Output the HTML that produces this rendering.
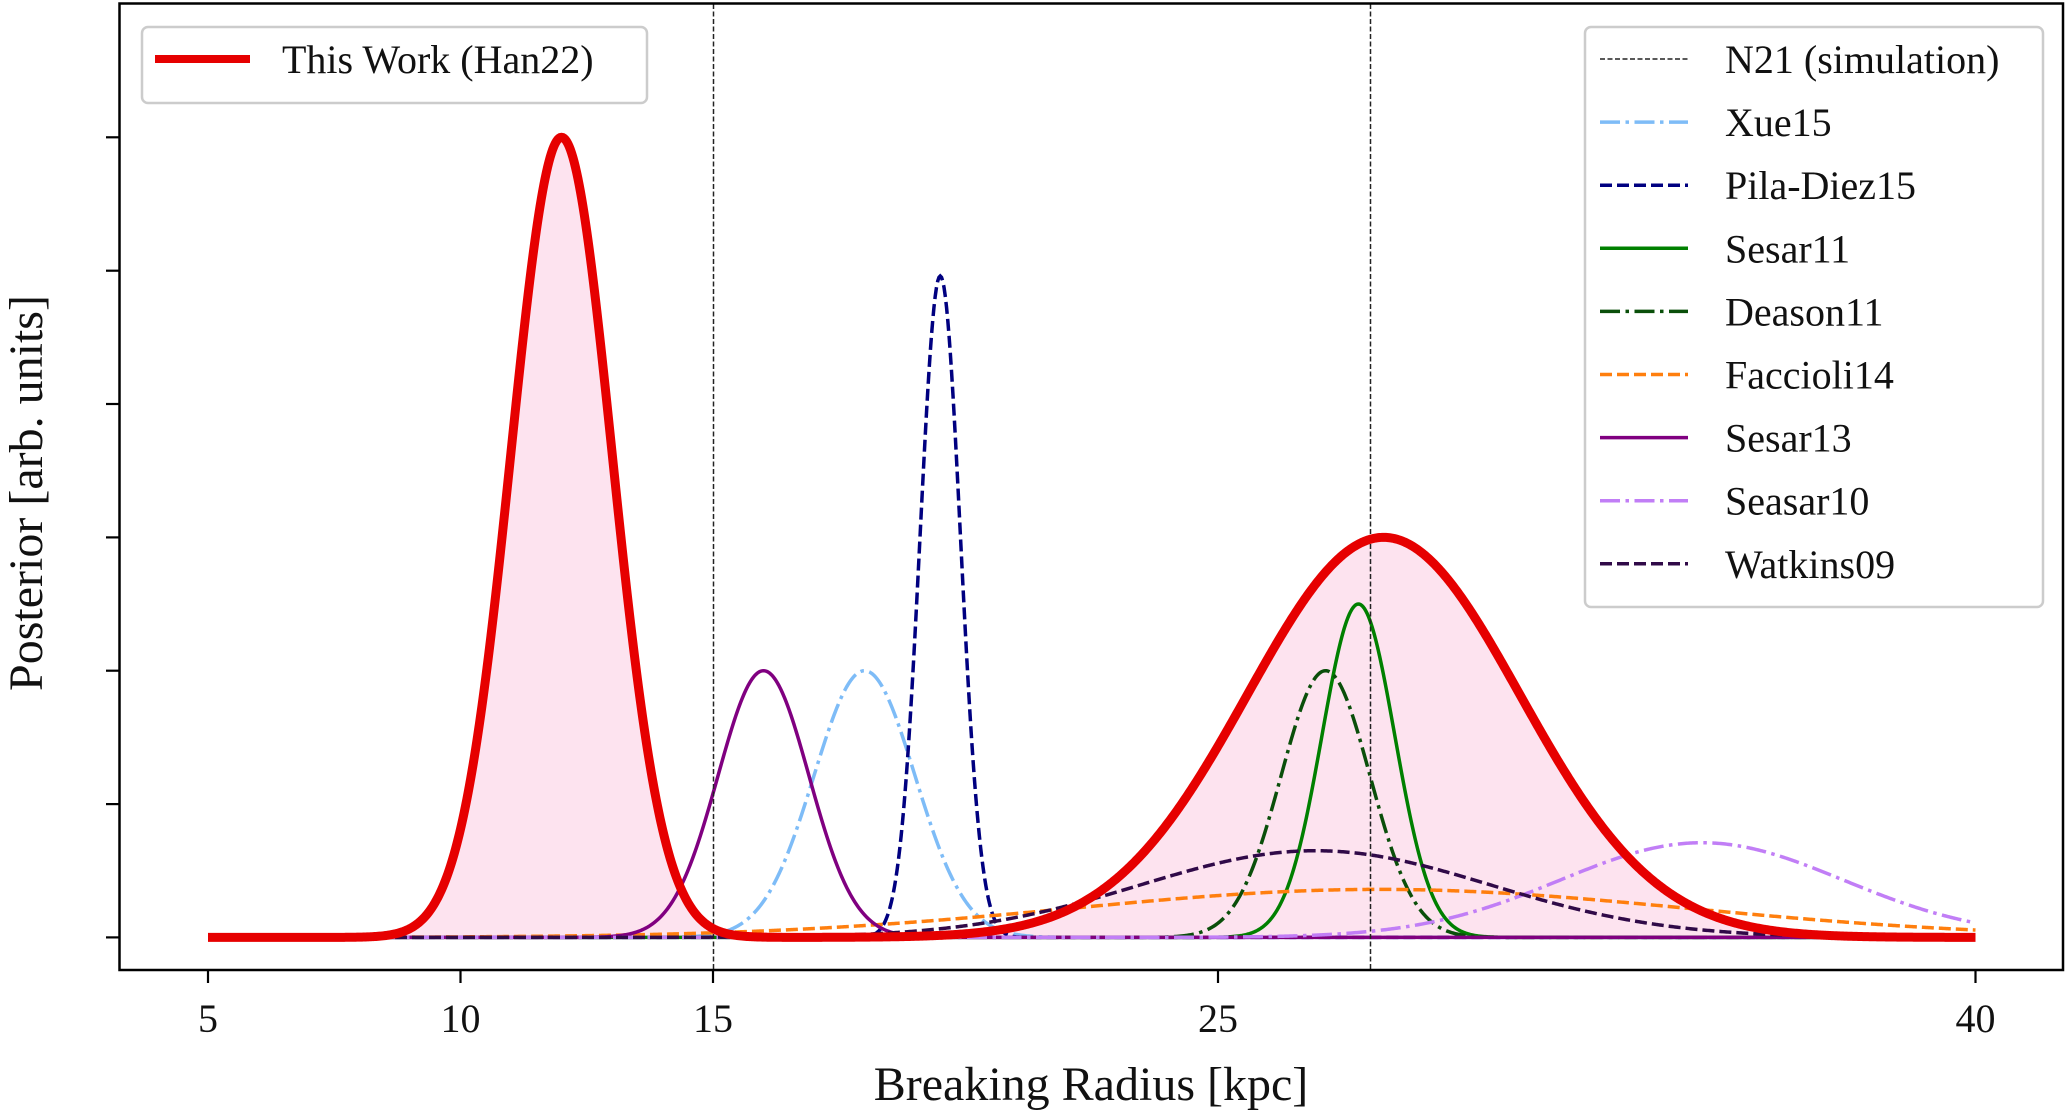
<!DOCTYPE html>
<html><head><meta charset="utf-8"><style>
html,body{margin:0;padding:0;background:#fff;}
svg{display:block;}
text{font-family:"Liberation Serif",serif;fill:#111;}
</style></head><body>
<svg id="s" width="2070" height="1115" viewBox="0 0 2070 1115" xmlns="http://www.w3.org/2000/svg">
<g id="curves"></g>
<line x1="713.5" y1="4" x2="713.5" y2="970" stroke="#222" stroke-width="1.5" stroke-dasharray="5,2.5"/>
<line x1="1370.5" y1="4" x2="1370.5" y2="970" stroke="#222" stroke-width="1.5" stroke-dasharray="5,2.5"/>
<g id="top"></g>
<rect x="119.5" y="3.5" width="1943.5" height="966.5" fill="none" stroke="#000" stroke-width="2.5"/>
<g stroke="#000" stroke-width="2.2">
<line x1="106" y1="137.3" x2="119.5" y2="137.3"/>
<line x1="106" y1="270.7" x2="119.5" y2="270.7"/>
<line x1="106" y1="404" x2="119.5" y2="404"/>
<line x1="106" y1="537.4" x2="119.5" y2="537.4"/>
<line x1="106" y1="670.7" x2="119.5" y2="670.7"/>
<line x1="106" y1="804.1" x2="119.5" y2="804.1"/>
<line x1="106" y1="937.4" x2="119.5" y2="937.4"/>
<line x1="208" y1="970" x2="208" y2="983"/>
<line x1="460.5" y1="970" x2="460.5" y2="983"/>
<line x1="713" y1="970" x2="713" y2="983"/>
<line x1="1218" y1="970" x2="1218" y2="983"/>
<line x1="1975.5" y1="970" x2="1975.5" y2="983"/>
</g>
<g font-size="40" text-anchor="middle">
<text x="208" y="1032">5</text>
<text x="460.5" y="1032">10</text>
<text x="713" y="1032">15</text>
<text x="1218" y="1032">25</text>
<text x="1975.5" y="1032">40</text>
</g>
<text x="1091" y="1100" font-size="48" text-anchor="middle">Breaking Radius [kpc]</text>
<text transform="translate(42,493) rotate(-90)" font-size="48" text-anchor="middle">Posterior [arb. units]</text>
<rect x="142" y="27" width="505" height="76" rx="6" fill="#fff" fill-opacity="0.85" stroke="#ccc" stroke-width="2.5"/>
<line x1="155" y1="59" x2="250" y2="59" stroke="#e60000" stroke-width="8"/>
<text x="282" y="73" font-size="40">This Work (Han22)</text>
<rect x="1585" y="27" width="458" height="580" rx="6" fill="#fff" fill-opacity="0.85" stroke="#ccc" stroke-width="2.5"/>
<g id="leg"></g>
</svg>
<script>
var X=function(x){return 208+(x-5)*50.5;};
var Y=function(v){return 937.4-v*133.35;};
function path(c,a,s){var d="";for(var i=0;i<=1400;i++){var x=5+35*i/1400;var v=a*Math.exp(-(x-c)*(x-c)/(2*s*s));d+=(i?"L":"M")+X(x).toFixed(2)+","+Y(v).toFixed(2);}return d;}
function red(x){return 6*Math.exp(-(x-12)*(x-12)/2)+3*Math.exp(-(x-28.28)*(x-28.28)/(2*2.7*2.7));}
var rd="";for(var i=0;i<=1400;i++){var x=5+35*i/1400;rd+=(i?"L":"M")+X(x).toFixed(2)+","+Y(red(x)).toFixed(2);}
var ns="http://www.w3.org/2000/svg";
function mk(par,d,col,w,dash,fill){var p=document.createElementNS(ns,"path");p.setAttribute("d",d);p.setAttribute("stroke",fill?"none":col);p.setAttribute("stroke-width",w);p.setAttribute("fill",fill||"none");if(dash)p.setAttribute("stroke-dasharray",dash);par.appendChild(p);}
var g=document.getElementById("curves");
mk(g,rd+"L"+X(40)+","+Y(0)+"L"+X(5)+","+Y(0)+"Z","",0,null,"#fde3ef");
var D="12,5",DD="20,5.5,3.5,5.5";
var S=[
["Xue15",18,2,1.0,"#7ebcf7",DD],
["Pila-Diez15",19.5,4.96,0.4,"#000080",D],
["Sesar11",27.78,2.5,0.72,"#008000",null],
["Deason11",27.13,2.0,0.88,"#0a4f0a",DD],
["Faccioli14",28.2,0.36,6.1,"#ff7f0e",D],
["Sesar13",16.0,2.0,0.9,"#800080",null],
["Seasar10",34.58,0.71,2.8,"#c17ef6",DD],
["Watkins09",26.93,0.65,3.46,"#300a48",D]];
S.forEach(function(s){mk(g,path(s[1],s[2],s[3]),s[4],3.5,s[5]);});
mk(document.getElementById("top"),rd,"#e60000",9,null);
var L=document.getElementById("leg");
var names=[["N21 (simulation)","#222","5,2.5",1.5]].concat(S.map(function(s){return [s[0],s[4],s[5],3.5];}));
names.forEach(function(n,i){var y=59+i*63.1;
var l=document.createElementNS(ns,"line");l.setAttribute("x1",1600);l.setAttribute("x2",1688);l.setAttribute("y1",y);l.setAttribute("y2",y);l.setAttribute("stroke",n[1]);l.setAttribute("stroke-width",n[3]);if(n[2])l.setAttribute("stroke-dasharray",n[2]);L.appendChild(l);
var t=document.createElementNS(ns,"text");t.setAttribute("x",1725);t.setAttribute("y",y+14);t.setAttribute("font-size","40");t.textContent=n[0];L.appendChild(t);});
</script>
</body></html>
